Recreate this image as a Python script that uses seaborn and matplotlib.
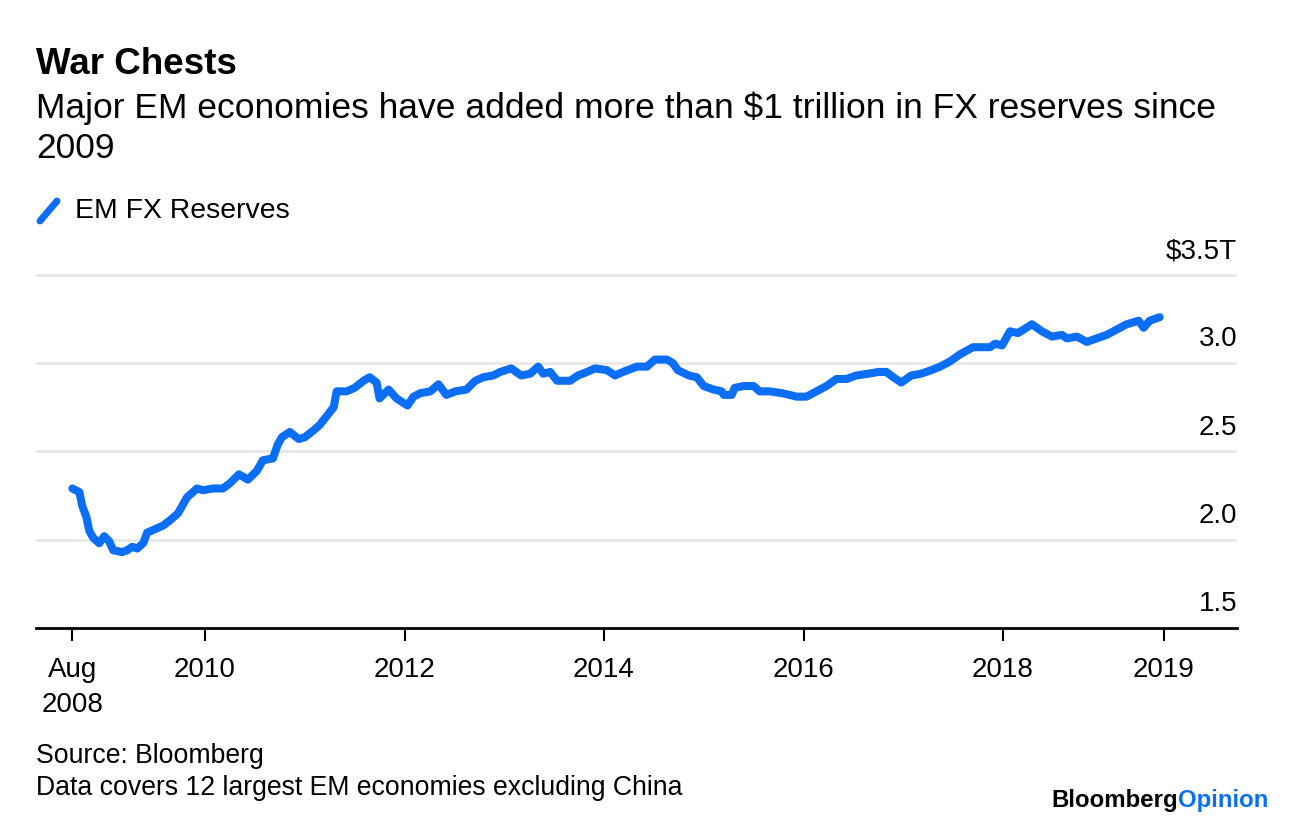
import numpy as np
import pandas as pd
import seaborn as sns
from matplotlib import pyplot as plt
from matplotlib.lines import Line2D

# EM FX reserves, $ trillions (x in decimal years)
years = [
    2008.67, 2008.74, 2008.77, 2008.81, 2008.84, 2008.88, 2008.94, 2008.99,
    2009.04, 2009.08, 2009.17, 2009.22, 2009.27, 2009.32, 2009.38, 2009.42,
    2009.50, 2009.58, 2009.65, 2009.73, 2009.82, 2009.92, 2009.98, 2010.08,
    2010.18, 2010.25, 2010.34, 2010.43, 2010.52, 2010.58, 2010.68, 2010.73,
    2010.77, 2010.85, 2010.94, 2011.00, 2011.09, 2011.15, 2011.22, 2011.29,
    2011.32, 2011.42, 2011.50, 2011.59, 2011.65, 2011.72, 2011.75, 2011.84,
    2011.92, 2012.03, 2012.09, 2012.16, 2012.26, 2012.34, 2012.42, 2012.51,
    2012.62, 2012.71, 2012.79, 2012.89, 2012.96, 2013.07, 2013.17, 2013.26,
    2013.34, 2013.39, 2013.46, 2013.53, 2013.66, 2013.74, 2013.83, 2013.91,
    2014.03, 2014.11, 2014.19, 2014.33, 2014.43, 2014.51, 2014.63, 2014.69,
    2014.74, 2014.85, 2014.93, 2015.00, 2015.10, 2015.18, 2015.20, 2015.28,
    2015.31, 2015.40, 2015.50, 2015.56, 2015.66, 2015.78, 2015.86, 2015.93,
    2016.03, 2016.13, 2016.23, 2016.33, 2016.43, 2016.53, 2016.65, 2016.75,
    2016.83, 2016.90, 2016.98, 2017.08, 2017.18, 2017.28, 2017.37, 2017.47,
    2017.57, 2017.70, 2017.79, 2017.87, 2017.92, 2017.99, 2018.07, 2018.15,
    2018.29, 2018.39, 2018.49, 2018.59, 2018.64, 2018.74, 2018.84, 2018.94,
    2019.04, 2019.14, 2019.24, 2019.36, 2019.41, 2019.47, 2019.57,
]
reserves = [
    2.29, 2.27, 2.19, 2.13, 2.05, 2.01, 1.98, 2.02,
    1.99, 1.94, 1.93, 1.94, 1.96, 1.95, 1.98, 2.04,
    2.06, 2.08, 2.11, 2.15, 2.24, 2.29, 2.28, 2.29,
    2.29, 2.32, 2.37, 2.34, 2.39, 2.45, 2.46, 2.54,
    2.58, 2.61, 2.57, 2.58, 2.62, 2.65, 2.70, 2.75,
    2.84, 2.84, 2.86, 2.90, 2.92, 2.89, 2.80, 2.85,
    2.80, 2.76, 2.81, 2.83, 2.84, 2.88, 2.82, 2.84,
    2.85, 2.90, 2.92, 2.93, 2.95, 2.97, 2.93, 2.94,
    2.98, 2.94, 2.95, 2.90, 2.90, 2.93, 2.95, 2.97,
    2.96, 2.93, 2.95, 2.98, 2.98, 3.02, 3.02, 3.00,
    2.96, 2.93, 2.92, 2.87, 2.85, 2.84, 2.82, 2.82,
    2.86, 2.87, 2.87, 2.84, 2.84, 2.83, 2.82, 2.81,
    2.81, 2.84, 2.87, 2.91, 2.91, 2.93, 2.94, 2.95,
    2.95, 2.92, 2.89, 2.93, 2.94, 2.96, 2.98, 3.01,
    3.05, 3.09, 3.09, 3.09, 3.11, 3.10, 3.18, 3.17,
    3.22, 3.18, 3.15, 3.16, 3.14, 3.15, 3.12, 3.14,
    3.16, 3.19, 3.22, 3.24, 3.20, 3.24, 3.26,
]

x_ticks = [2008.67, 2010, 2012, 2014, 2016, 2018, 2019.61]
x_labels = ["Aug\n2008", "2010", "2012", "2014", "2016", "2018", "2019"]
y_ticks = [1.5, 2.0, 2.5, 3.0, 3.5]
y_labels = ["1.5", "2.0", "2.5", "3.0", "$3.5T"]

BLUE = "#0a6ef7"

sns.set_theme(style="white")
plt.rcParams['font.family'] = ['Liberation Sans', 'DejaVu Sans']
plt.rcParams['text.color'] = 'black'
plt.rcParams['xtick.color'] = 'black'

df = pd.DataFrame({'year': years, 'reserves': reserves})

fig = plt.figure(figsize=(12.96, 8.16), dpi=100)
ax = fig.add_axes([0.0278, 0.2304, 0.9267, 0.4588])

sns.lineplot(data=df, x='year', y='reserves', ax=ax, color=BLUE,
             linewidth=5.8, solid_capstyle='round', solid_joinstyle='round',
             zorder=3)

ax.set_xlim(2008.306, 2020.346)
ax.set_ylim(1.5, 3.62)
ax.set_xlabel("")
ax.set_ylabel("")

# gridlines (the 1.5 level is the axis line itself)
for v in y_ticks[1:]:
    ax.axhline(v, color="#e6e6e6", linewidth=1.8, zorder=1)

for side in ['top', 'right', 'left']:
    ax.spines[side].set_visible(False)
ax.spines['bottom'].set_color('black')
ax.spines['bottom'].set_linewidth(2)

ax.set_xticks(x_ticks)
ax.set_xticklabels(x_labels, fontsize=20, linespacing=1.45, color='black')
ax.tick_params(axis='x', direction='out', length=9, width=1.5,
               color='black', pad=12, bottom=True)
ax.set_yticks([])

for v, lab in zip(y_ticks, y_labels):
    ax.annotate(lab, xy=(1, v), xycoords=('axes fraction', 'data'),
                xytext=(0, 12), textcoords='offset points',
                ha='right', va='baseline', fontsize=20, color='black')

# titles
fig.text(0.0278, 1 - 65 / 816, "War Chests", fontsize=26.5, fontweight='bold',
         ha='left', va='center')
fig.text(0.0278, 1 - 108 / 816,
         "Major EM economies have added more than $1 trillion in FX reserves since",
         fontsize=25.5, ha='left', va='center')
fig.text(0.0278, 1 - 148 / 816, "2009", fontsize=25.5, ha='left', va='center')

# legend
fig.add_artist(Line2D([40 / 1296, 57 / 1296], [1 - 221 / 816, 1 - 201 / 816],
                      color=BLUE, linewidth=5, solid_capstyle='round'))
fig.text(75 / 1296, 1 - 211 / 816, "EM FX Reserves", fontsize=20.4,
         ha='left', va='center')

# footer
fig.text(0.0278, 1 - 756 / 816, "Source: Bloomberg", fontsize=19.2,
         ha='left', va='center')
fig.text(0.0278, 1 - 788 / 816, "Data covers 12 largest EM economies excluding China",
         fontsize=19.2, ha='left', va='center')

opinion = fig.text(1268 / 1296, 1 - 800 / 816, "Opinion", fontsize=17.3,
                   fontweight='bold', color=BLUE, ha='right', va='center')
ax.annotate("Bloomberg", xy=(0, 0.5), xycoords=opinion, ha='right',
            va='center', fontsize=17.3, fontweight='bold', color='black')

fig.savefig("out.png", dpi=100)
